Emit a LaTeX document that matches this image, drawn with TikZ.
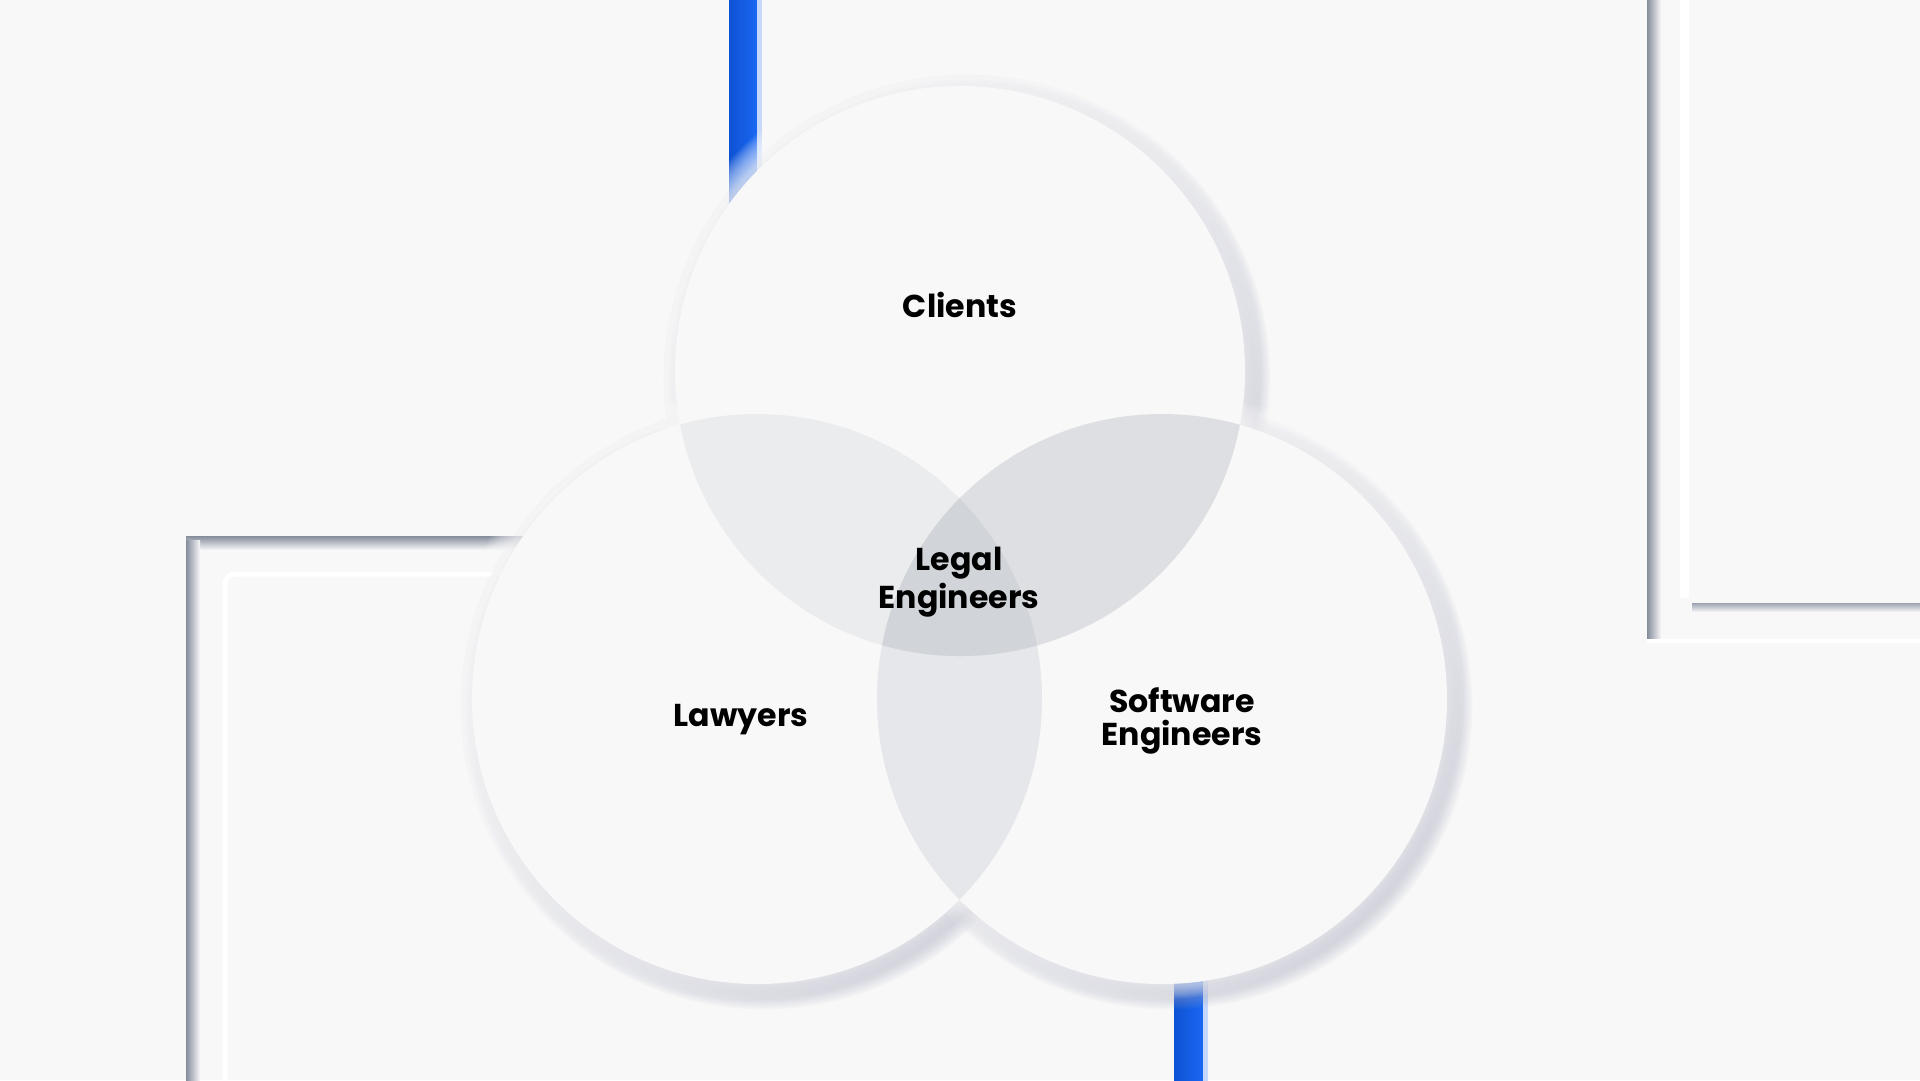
\documentclass[tikz,border=0pt]{standalone}
\usepackage{fontspec}
\setmainfont{Poppins}
\definecolor{bggray}{HTML}{F8F8F8}
\definecolor{groove}{HTML}{858C9C}
\definecolor{barblue}{HTML}{1A68F2}
\definecolor{bardark}{HTML}{0E52D4}
\definecolor{shadegray}{HTML}{A9ABC0}
\definecolor{clientslaw}{HTML}{EBECEE}
\definecolor{clientssoft}{HTML}{DEDFE2}
\definecolor{lawsoft}{HTML}{E6E7EA}
\definecolor{allthree}{HTML}{D1D5D9}
\pgfdeclarelayer{bg}
\pgfsetlayers{bg,main}

\begin{document}
\begin{tikzpicture}[x=0.1mm, y=-0.1mm,
        ring/.style={fill=bggray},
        glow/.style={fill=white, fill opacity=0.09},
        drop/.style={fill=shadegray, fill opacity=0.055},
        lbl/.style={font=\fontsize{9}{9.6}\selectfont\bfseries, align=center, text=black}]
        \useasboundingbox (0,0) rectangle (1920,1080);

        \coordinate (cl) at (960,371);
        \coordinate (lw) at (757,699);
        \coordinate (se) at (1162,699);

        \begin{pgfonlayer}{bg}
                \fill[bggray] (0,0) rectangle (1920,1080);
                % left frame
                \shade[top color=groove, bottom color=bggray] (186,536) rectangle (560,550);
                \shade[left color=groove, right color=bggray] (186,540) rectangle (200,1080);
                \draw[white, line width=0.5mm, rounded corners=1mm] (225,1080) -- (225,574) -- (540,574);
                % right frame
                \shade[left color=groove, right color=bggray] (1647,-5) rectangle (1661,639);
                \draw[white, line width=0.4mm] (1647,641) -- (1925,641);
                \shade[top color=groove!80, bottom color=bggray] (1692,603) rectangle (1925,612);
                \draw[white, line width=0.9mm] (1684,-5) -- (1684,598);
                % blue bars
                \shade[left color=bardark, right color=barblue] (729,-5) rectangle (757,371);
                \fill[barblue!25] (757,-5) rectangle (762,371);
                \shade[left color=bardark, right color=barblue] (1174,699) rectangle (1203,1085);
                \fill[barblue!25] (1203,699) rectangle (1208,1085);
        \end{pgfonlayer}

        % soft shadows and discs
        \foreach \c in {cl,lw,se}
                \foreach \k in {0,...,14}
                        \fill[drop] ([shift={(7,7)}]\c) circle[radius={281+1.6*\k}];
        \foreach \c in {cl,lw,se}
                \foreach \k in {0,...,11}
                        \fill[glow] ([shift={(-5,-5)}]\c) circle[radius={283+2*\k}];
        \foreach \c in {cl,lw,se}
                \fill[ring] (\c) circle[radius=285];

        % overlaps
        \begin{scope}
                \clip (lw) circle[radius=285];
                \fill[lawsoft] (se) circle[radius=285];
        \end{scope}
        \begin{scope}
                \clip (cl) circle[radius=285];
                \fill[clientslaw] (lw) circle[radius=285];
                \fill[clientssoft] (se) circle[radius=285];
                \clip (lw) circle[radius=285];
                \fill[allthree] (se) circle[radius=285];
        \end{scope}

        \node[lbl] (clients) at (960,305) {Clients};
        \node[lbl] (legal) at (959,582) {Legal\\Engineers};
        \node[lbl] (lawyers) at (741,720) {Lawyers};
        \node[lbl] (software) at (1182,721) {Software\\Engineers};
\end{tikzpicture}
\end{document}
